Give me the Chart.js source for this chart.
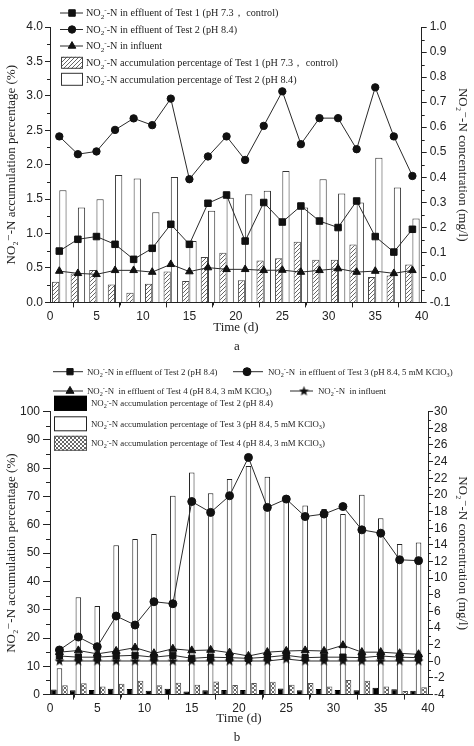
<!DOCTYPE html>
<html><head><meta charset="utf-8">
<script src="https://cdn.jsdelivr.net/npm/chart.js@4.4.1/dist/chart.umd.min.js"></script>
<style>
html,body{margin:0;padding:0;background:#fff;}
#wrap{position:relative;width:474px;height:746px;overflow:hidden;}
.box{position:absolute;left:0;width:474px;}
</style></head><body>
<div id="wrap">
<div class="box" style="top:0;height:355px"><canvas id="ca" width="474" height="355" style="width:474px;height:355px"></canvas></div>
<div class="box" style="top:355px;height:391px"><canvas id="cb" width="474" height="391" style="width:474px;height:391px"></canvas></div>
</div>
<script>
// ---------- DATA (panel a) ----------
const daysA = [1,3,5,7,9,11,13,15,17,19,21,23,25,27,29,31,33,35,37,39];
const test1EffluentA = [0.105,0.152,0.163,0.132,0.072,0.116,0.212,0.132,0.296,0.329,0.145,0.299,0.221,0.285,0.225,0.199,0.305,0.163,0.101,0.192];
const test2EffluentA = [0.563,0.492,0.503,0.589,0.635,0.608,0.714,0.392,0.483,0.563,0.469,0.605,0.743,0.532,0.636,0.636,0.512,0.759,0.563,0.405];
const influentA = [0.025,0.016,0.012,0.028,0.028,0.021,0.052,0.023,0.039,0.032,0.032,0.028,0.029,0.021,0.028,0.035,0.021,0.025,0.016,0.028];
const test1PercentA = [0.30,0.42,0.47,0.26,0.14,0.27,0.45,0.31,0.66,0.72,0.32,0.61,0.64,0.88,0.62,0.62,0.84,0.37,0.39,0.55];
const test2PercentA = [1.63,1.38,1.50,1.85,1.80,1.31,1.82,0.89,1.33,1.52,1.57,1.62,1.91,1.38,1.79,1.58,1.45,2.10,1.67,1.22];

// ---------- DATA (panel b) ----------
const daysB = [1,3,5,7,9,11,13,15,17,19,21,23,25,27,29,31,33,35,37,39];
const test2EffluentB = [0.64,0.50,0.50,0.64,0.72,0.50,0.72,0.36,0.50,0.44,0.36,0.50,0.72,0.44,0.50,0.50,0.44,0.64,0.50,0.44];
const test3EffluentB = [1.36,2.92,1.76,5.44,4.36,7.16,6.92,19.2,17.9,19.9,24.5,18.5,19.5,17.4,17.7,18.6,15.8,15.4,12.2,12.1];
const test4EffluentB = [1.10,1.30,0.90,1.24,1.64,0.96,1.50,1.30,1.36,1.04,0.64,1.10,1.24,1.30,1.24,1.92,1.10,1.10,0.96,0.84];
const influentB = [0.04,0.04,0.04,0.04,0.04,0.04,0.04,0.04,0.04,0.04,0.04,0.04,0.28,0.04,0.04,0.04,0.04,0.04,0.04,0.04];
const test2PercentB = [1.8,1.5,1.6,2.1,2.0,1.4,2.1,1.1,1.5,1.6,1.6,1.6,2.2,1.5,2.0,1.6,1.5,2.4,1.9,1.4];
const test3PercentB = [9.3,34.4,31.3,52.8,55.0,56.8,70.3,78.5,71.2,76.2,80.8,77.0,69.1,66.8,65.6,63.8,70.6,62.3,53.2,53.8];
const test4PercentB = [3.3,4.0,2.9,3.8,4.9,3.3,4.2,3.5,4.6,3.4,4.1,4.5,3.5,4.1,2.9,5.2,4.9,2.9,1.3,2.6];

// ---------- TEXT ----------
const legendTextsA = [
  'NO{_2}{^-}-N in effluent of Test 1 (pH 7.3\uFF0C control)',
  'NO{_2}{^-}-N in effluent of Test 2 (pH 8.4)',
  'NO{_2}{^-}-N in influent',
  'NO{_2}{^-}-N accumulation percentage of Test 1 (pH 7.3\uFF0C control)',
  'NO{_2}{^-}-N accumulation percentage of Test 2 (pH 8.4)'
];
const legendTextsB = [
  'NO{_2}{^-}-N in effluent of Test 2 (pH 8.4)',
  'NO{_2}{^-}-N  in effluent of Test 3 (pH 8.4, 5 mM KClO{_3})',
  'NO{_2}{^-}-N  in effluent of Test 4 (pH 8.4, 3 mM KClO{_3})',
  'NO{_2}{^-}-N  in influent',
  'NO{_2}{^-}-N accumulation percentage of Test 2 (pH 8.4)',
  'NO{_2}{^-}-N accumulation percentage of Test 3 (pH 8.4, 5 mM KClO{_3})',
  'NO{_2}{^-}-N accumulation percentage of Test 4 (pH 8.4, 3 mM KClO{_3})'
];
const leftTitle = 'NO\u2082\u207B-N accumulation percentage (%)';
const rightTitle = 'NO\u2082\u207B-N concentration (mg/l)';
const xTitle = 'Time (d)';

const SERIF = "'Liberation Serif','Times New Roman','DejaVu Serif',serif";
const SANS = "'Liberation Sans',Arial,'DejaVu Sans',sans-serif";
const INK = '#222';

function pts(xs, ys){ return xs.map((x,i)=>({x:x, y:ys[i]})); }

function makeTile(w,h,draw){ const c=document.createElement('canvas'); c.width=w; c.height=h; const g=c.getContext('2d'); draw(g); return c; }
const hatchTile = makeTile(4,4,g=>{ g.fillStyle='#fff'; g.fillRect(0,0,4,4); g.strokeStyle='#555'; g.lineWidth=0.9; g.beginPath(); g.moveTo(0,4); g.lineTo(4,0); g.moveTo(-1,1); g.lineTo(1,-1); g.moveTo(3,5); g.lineTo(5,3); g.stroke(); });
const checkTile = makeTile(4,4,g=>{ g.fillStyle='#fff'; g.fillRect(0,0,4,4); g.fillStyle='#666'; g.fillRect(0,0,2,2); g.fillRect(2,2,2,2); });
const starImg = makeTile(11,11,g=>{ g.fillStyle='#111'; g.beginPath(); for(let i=0;i<10;i++){ const r=i%2?2.2:5.3; const a=-Math.PI/2+i*Math.PI/5; g.lineTo(5.5+r*Math.cos(a),5.8+r*Math.sin(a)); } g.closePath(); g.fill(); });

function drawRich(ctx, text, x, y, size, color){
  const re=/\{([_^])([^}]*)\}/g; let last=0, m; const segs=[];
  while((m=re.exec(text))){ if(m.index>last) segs.push({t:text.slice(last,m.index),k:''}); segs.push({t:m[2],k:m[1]}); last=re.lastIndex; }
  if(last<text.length) segs.push({t:text.slice(last),k:''});
  ctx.textBaseline='alphabetic'; ctx.textAlign='left'; ctx.fillStyle=color;
  let cx=x; const base=y+size*0.33;
  for(const s of segs){ let fs=size, dy=0; if(s.k==='_'){fs=size*0.7; dy=size*0.25;} else if(s.k==='^'){fs=size*0.7; dy=-size*0.42;}
    ctx.font=fs+'px '+SERIF; ctx.fillText(s.t,cx,base+dy); cx+=ctx.measureText(s.t).width; }
}

const richLegend = {
  id:'richLegend',
  afterDraw(chart, args, opts){
    const ctx=chart.ctx; ctx.save();
    for(const it of opts.items){
      const ds=chart.data.datasets[it.ds];
      if(it.kind==='line'){
        ctx.strokeStyle=ds.borderColor; ctx.lineWidth=ds.borderWidth||1;
        ctx.beginPath(); ctx.moveTo(it.x,it.y); ctx.lineTo(it.x+it.w,it.y); ctx.stroke();
        ctx.fillStyle=ds.pointBackgroundColor; ctx.strokeStyle=ds.pointBorderColor;
        Chart.helpers.drawPoint(ctx,{pointStyle:ds.pointStyle,radius:ds.pointRadius,borderWidth:1,rotation:0},it.mx,it.y);
      } else {
        ctx.fillStyle=ds.backgroundColor; ctx.fillRect(it.x,it.y-it.h/2,it.w,it.h);
        ctx.strokeStyle=ds.borderColor; ctx.lineWidth=1; ctx.strokeRect(it.x+0.5,it.y-it.h/2+0.5,it.w-1,it.h-1);
      }
      drawRich(ctx,it.text,it.tx,it.y,opts.size,INK);
    }
    ctx.restore();
  }
};

const minorTicks = {
  id:'minorTicks',
  afterDraw(chart, args, opts){
    const ctx=chart.ctx; ctx.save(); ctx.strokeStyle=INK; ctx.lineWidth=1;
    for(const mt of opts.list){
      const s=chart.scales[mt.id];
      for(let v=mt.start; v<=mt.end+1e-9; v+=mt.step){
        const p=Math.round(s.getPixelForValue(v))+0.5; ctx.beginPath();
        if(s.isHorizontal()){ ctx.moveTo(p,s.top); ctx.lineTo(p,s.top+mt.len); }
        else if(s.position==='left'){ ctx.moveTo(s.right,p); ctx.lineTo(s.right-mt.len,p); }
        else { ctx.moveTo(s.left,p); ctx.lineTo(s.left+mt.len,p); }
        ctx.stroke();
      }
    }
    ctx.restore();
  }
};

function lineDs(label, xs, ys, style, r){
  return {type:'line', label:label, data:pts(xs,ys), yAxisID:'y2', borderColor:'#2a2a2a', borderWidth:1, tension:0,
    pointStyle:style, pointRadius:r, pointHoverRadius:r, pointBackgroundColor:'#111', pointBorderColor:'#111', pointBorderWidth:1, fill:false};
}
function barDs(label, xs, ys, bg, border){
  return {type:'bar', label:label, data:pts(xs,ys), yAxisID:'y', backgroundColor:bg, borderColor:border, borderWidth:1};
}
function axisCommon(){
  return {grid:{drawOnChartArea:false, tickLength:5, color:INK, tickColor:INK}, border:{color:INK, width:1},
    ticks:{color:INK, font:{family:SANS, size:12}, padding:2, autoSkip:false, maxRotation:0}};
}

Chart.defaults.animation=false;

// ---------- Panel a ----------
(function(){
  const ctx=document.getElementById('ca').getContext('2d');
  const hatch=ctx.createPattern(hatchTile,'repeat');
  const datasets=[
    lineDs('Test 1 effluent', daysA, test1EffluentA, 'rect', 4.6),
    lineDs('Test 2 effluent', daysA, test2EffluentA, 'circle', 3.7),
    lineDs('Influent', daysA, influentA, 'triangle', 4.4),
    barDs('Test 1 percentage', daysA, test1PercentA, hatch, '#444'),
    barDs('Test 2 percentage', daysA, test2PercentA, '#fff', '#333')
  ];
  datasets[3].categoryPercentage=0.78; datasets[3].barPercentage=1.0;
  datasets[4].categoryPercentage=0.78; datasets[4].barPercentage=1.0;
  const xa=axisCommon(), ya=axisCommon(), y2a=axisCommon();
  new Chart(ctx,{
    type:'bar', data:{datasets:datasets},
    options:{responsive:false, animation:false, layout:{padding:{top:27,left:0,right:0,bottom:0}},
      scales:{
        x:Object.assign(xa,{type:'linear', min:0, max:40, offset:false, ticks:Object.assign(xa.ticks,{stepSize:5}),
          title:{display:true, text:xTitle, color:INK, font:{family:SERIF,size:13}, padding:{top:0,bottom:0}},
          afterFit(s){ s.height=33; }}),
        y:Object.assign(ya,{position:'left', min:0, max:4, ticks:Object.assign(ya.ticks,{stepSize:0.5, callback:v=>v.toFixed(1)}),
          title:{display:true, text:leftTitle, color:INK, font:{family:SERIF,size:13}, padding:{top:4,bottom:0}},
          afterFit(s){ s.width=50; }}),
        y2:Object.assign(y2a,{position:'right', min:-0.1, max:1.0, ticks:Object.assign(y2a.ticks,{stepSize:0.1, padding:3, callback:v=>v.toFixed(1)}),
          title:{display:true, text:rightTitle, color:INK, font:{family:SERIF,size:13}, padding:{top:4,bottom:0}},
          afterFit(s){ s.width=52.3; }})
      },
      plugins:{legend:{display:false}, tooltip:{enabled:false},
        title:{display:true, text:'a', position:'bottom', color:INK, font:{family:SERIF,size:13,weight:'normal'}, padding:{top:3,bottom:1}},
        minorTicks:{list:[{id:'x',start:2.5,end:40,step:5,len:3},{id:'y',start:0.25,end:4,step:0.5,len:3},{id:'y2',start:-0.05,end:1,step:0.1,len:3}]},
        richLegend:{size:10.2, items:[
          {kind:'line',ds:0,x:60,w:23,mx:72,y:13,tx:86,text:legendTextsA[0]},
          {kind:'line',ds:1,x:60,w:23,mx:72,y:29.5,tx:86,text:legendTextsA[1]},
          {kind:'line',ds:2,x:60,w:23,mx:72,y:46,tx:86,text:legendTextsA[2]},
          {kind:'box',ds:3,x:61,w:22,h:12,y:62.8,tx:86,text:legendTextsA[3]},
          {kind:'box',ds:4,x:61,w:22,h:13,y:79.3,tx:86,text:legendTextsA[4]}
        ]}
      }
    },
    plugins:[minorTicks, richLegend]
  });
})();

// ---------- Panel b ----------
(function(){
  const ctx=document.getElementById('cb').getContext('2d');
  const check=ctx.createPattern(checkTile,'repeat');
  const datasets=[
    lineDs('Test 2 effluent', daysB, test2EffluentB, 'rect', 4.4),
    lineDs('Test 3 effluent', daysB, test3EffluentB, 'circle', 4.0),
    lineDs('Test 4 effluent', daysB, test4EffluentB, 'triangle', 4.6),
    lineDs('Influent', daysB, influentB, starImg, 5),
    barDs('Test 2 percentage', daysB, test2PercentB, '#000', '#000'),
    barDs('Test 3 percentage', daysB, test3PercentB, '#fff', '#222'),
    barDs('Test 4 percentage', daysB, test4PercentB, check, '#555')
  ];
  for(let i=4;i<7;i++){ datasets[i].categoryPercentage=0.88; datasets[i].barPercentage=1.0; }
  const xa=axisCommon(), ya=axisCommon(), y2a=axisCommon();
  new Chart(ctx,{
    type:'bar', data:{datasets:datasets},
    options:{responsive:false, animation:false, layout:{padding:{top:56.7,left:0,right:0,bottom:0}},
      scales:{
        x:Object.assign(xa,{type:'linear', min:0, max:40, offset:false, ticks:Object.assign(xa.ticks,{stepSize:5}),
          title:{display:true, text:xTitle, color:INK, font:{family:SERIF,size:13}, padding:{top:0,bottom:0}},
          afterFit(s){ s.height=31.8; }}),
        y:Object.assign(ya,{position:'left', min:0, max:100, grid:Object.assign(ya.grid,{tickLength:7}), ticks:Object.assign(ya.ticks,{stepSize:10, padding:3}),
          title:{display:true, text:leftTitle, color:INK, font:{family:SERIF,size:13}, padding:{top:4,bottom:0}},
          afterFit(s){ s.width=50; }}),
        y2:Object.assign(y2a,{position:'right', min:-4, max:30, ticks:Object.assign(y2a.ticks,{stepSize:2, padding:1}),
          title:{display:true, text:rightTitle, color:INK, font:{family:SERIF,size:13}, padding:{top:4,bottom:0}},
          afterFit(s){ s.width=46; }})
      },
      plugins:{legend:{display:false}, tooltip:{enabled:false},
        title:{display:true, text:'b', position:'bottom', color:INK, font:{family:SERIF,size:13,weight:'normal'}, padding:{top:3,bottom:1}},
        minorTicks:{list:[{id:'x',start:2.5,end:40,step:5,len:3},{id:'y',start:5,end:100,step:10,len:4},{id:'y2',start:-3,end:30,step:2,len:3}]},
        richLegend:{size:8.8, items:[
          {kind:'line',ds:0,x:53,w:30,mx:70,y:16.7,tx:87,text:legendTextsB[0]},
          {kind:'line',ds:1,x:233,w:30,mx:247,y:16.7,tx:268,text:legendTextsB[1]},
          {kind:'line',ds:2,x:53,w:30,mx:70,y:36,tx:87,text:legendTextsB[2]},
          {kind:'line',ds:3,x:290,w:23,mx:304,y:36,tx:318,text:legendTextsB[3]},
          {kind:'box',ds:4,x:54,w:33,h:15,y:48.3,tx:91,text:legendTextsB[4]},
          {kind:'box',ds:5,x:54,w:33,h:15,y:68.8,tx:91,text:legendTextsB[5]},
          {kind:'box',ds:6,x:54,w:33,h:15,y:88.3,tx:91,text:legendTextsB[6]}
        ]}
      }
    },
    plugins:[minorTicks, richLegend]
  });
})();
</script>
</body></html>
